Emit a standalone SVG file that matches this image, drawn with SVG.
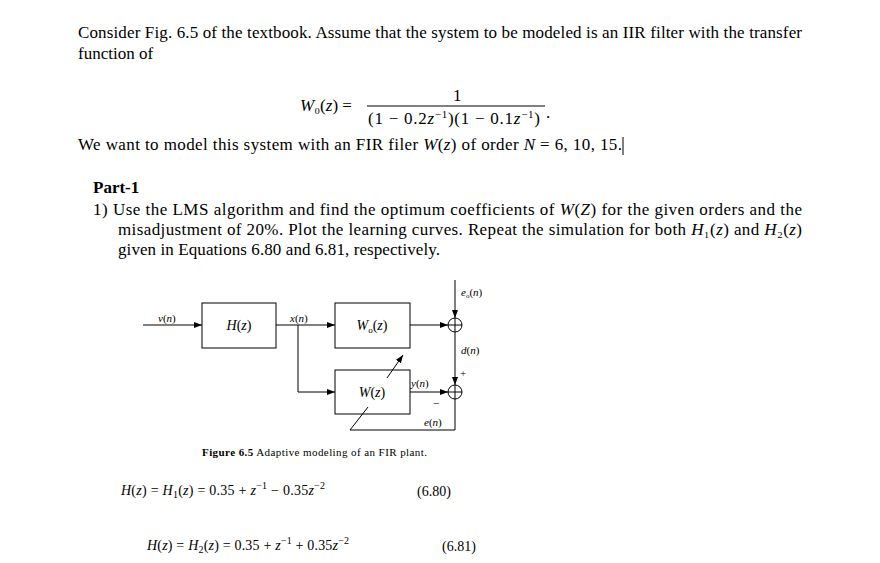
<svg xmlns="http://www.w3.org/2000/svg" width="880" height="563" viewBox="0 0 880 563">
<defs>
<marker id="ah" markerWidth="8" markerHeight="6" refX="8" refY="3" orient="auto" markerUnits="userSpaceOnUse"><path d="M0,0 L8,3 L0,6 z" fill="#000"/></marker>
</defs>
<style>
text{font-family:"Liberation Serif","DejaVu Serif",serif;fill:#000}
.t{font-size:17px}
.m{font-style:italic}
.s{font-size:11px}
.b{font-size:14px}
.box{fill:none;stroke:#000;stroke-width:1}
.ln{fill:none;stroke:#000;stroke-width:1}
</style>
<rect width="880" height="563" fill="#fff"/>
<text class="t" x="78" y="38" textLength="724" lengthAdjust="spacing">Consider Fig. 6.5 of the textbook. Assume that the system to be modeled is an IIR filter with the transfer</text>
<text class="t" x="78" y="59">function of</text>
<text class="t" x="300" y="111"><tspan class="m">W</tspan>₀(<tspan class="m">z</tspan>) =</text>
<text class="t" x="453" y="101">1</text>
<line x1="367" y1="106" x2="545" y2="106" stroke="#000"/>
<text class="t" x="368" y="124" textLength="172" lengthAdjust="spacing">(1 − 0.2<tspan class="m">z</tspan><tspan font-size="11" dy="-6">−1</tspan><tspan dy="6">)(1 − 0.1</tspan><tspan class="m">z</tspan><tspan font-size="11" dy="-6">−1</tspan><tspan dy="6">)</tspan></text>
<text class="t" x="546" y="118">.</text>
<text class="t" x="78" y="150" textLength="544" lengthAdjust="spacing">We want to model this system with an FIR filer <tspan class="m">W</tspan>(<tspan class="m">z</tspan>) of order <tspan class="m">N</tspan> = 6, 10, 15.</text>
<line x1="623" y1="137" x2="623" y2="155" stroke="#000"/>
<text class="t" x="93" y="193" font-weight="bold">Part-1</text>
<text class="t" x="93" y="215" textLength="709" lengthAdjust="spacing">1)  Use the LMS algorithm and find the optimum coefficients of <tspan class="m">W</tspan>(<tspan class="m">Z</tspan>) for the given orders and the</text>
<text class="t" x="118" y="235" textLength="684" lengthAdjust="spacing">misadjustment of 20%. Plot the learning curves. Repeat the simulation for both <tspan class="m">H</tspan>₁(<tspan class="m">z</tspan>) and <tspan class="m">H</tspan>₂(<tspan class="m">z</tspan>)</text>
<text class="t" x="118" y="255" textLength="322" lengthAdjust="spacing">given in Equations 6.80 and 6.81, respectively.</text>
<g id="connectors">
<line class="ln" x1="143" y1="325" x2="202" y2="325" marker-end="url(#ah)"/>
<line class="ln" x1="276" y1="325" x2="335" y2="325" marker-end="url(#ah)"/>
<polyline class="ln" points="298,325 298,392 335,392" marker-end="url(#ah)"/>
<line class="ln" x1="410" y1="325" x2="448" y2="325" marker-end="url(#ah)"/>
<line class="ln" x1="410" y1="392" x2="448" y2="392" marker-end="url(#ah)"/>
<line class="ln" x1="455" y1="280" x2="455" y2="318" marker-end="url(#ah)"/>
<line class="ln" x1="455" y1="332" x2="455" y2="385" marker-end="url(#ah)"/>
<polyline class="ln" points="455,399 455,430 350,430 368,407"/>
<line class="ln" x1="387" y1="378" x2="403" y2="355" marker-end="url(#ah)"/>
</g>
<g id="H"><rect class="box" x="202" y="303" width="74" height="45"/><text class="b" x="239" y="330" text-anchor="middle"><tspan class="m">H</tspan>(<tspan class="m">z</tspan>)</text></g>
<g id="Wo"><rect class="box" x="335" y="303" width="75" height="45"/><text class="b" x="372" y="330" text-anchor="middle"><tspan class="m">W</tspan><tspan font-size="9" dy="3">o</tspan><tspan dy="-3">(</tspan><tspan class="m">z</tspan>)</text></g>
<g id="W"><rect class="box" x="335" y="370" width="75" height="44"/><text class="b" x="372" y="397" text-anchor="middle"><tspan class="m">W</tspan>(<tspan class="m">z</tspan>)</text></g>
<g id="sum1"><circle class="box" cx="455" cy="325" r="7"/><line class="ln" x1="448" y1="325" x2="462" y2="325"/><line class="ln" x1="455" y1="318" x2="455" y2="332"/></g>
<g id="sum2"><circle class="box" cx="455" cy="392" r="7"/><line class="ln" x1="448" y1="392" x2="462" y2="392"/><line class="ln" x1="455" y1="385" x2="455" y2="399"/></g>
<g id="labels">
<text class="s" x="158" y="322"><tspan class="m">ν</tspan>(<tspan class="m">n</tspan>)</text>
<text class="s" x="290" y="322"><tspan class="m">x</tspan>(<tspan class="m">n</tspan>)</text>
<text class="s" x="461" y="296"><tspan class="m">e</tspan><tspan font-size="7" dy="2">o</tspan><tspan dy="-2">(</tspan><tspan class="m">n</tspan>)</text>
<text class="s" x="461" y="354"><tspan class="m">d</tspan>(<tspan class="m">n</tspan>)</text>
<text class="s" x="460" y="377">+</text>
<text class="s" x="411" y="387"><tspan class="m">y</tspan>(<tspan class="m">n</tspan>)</text>
<text class="s" x="433" y="407">−</text>
<text class="s" x="424" y="426"><tspan class="m">e</tspan>(<tspan class="m">n</tspan>)</text>
</g>
<text x="202" y="456" font-size="11" textLength="225" lengthAdjust="spacing"><tspan font-weight="bold">Figure 6.5</tspan>    Adaptive modeling of an FIR plant.</text>
<text x="121" y="495" font-size="14" textLength="204" lengthAdjust="spacing"><tspan class="m">H</tspan>(<tspan class="m">z</tspan>) = <tspan class="m">H</tspan><tspan font-size="10" dy="3">1</tspan><tspan dy="-3">(</tspan><tspan class="m">z</tspan>) = 0.35 + <tspan class="m">z</tspan><tspan font-size="10" dy="-6">−1</tspan><tspan dy="6"> − 0.35</tspan><tspan class="m">z</tspan><tspan font-size="10" dy="-6">−2</tspan></text>
<text x="417" y="496" font-size="14">(6.80)</text>
<text x="147" y="550" font-size="14" textLength="202" lengthAdjust="spacing"><tspan class="m">H</tspan>(<tspan class="m">z</tspan>) = <tspan class="m">H</tspan><tspan font-size="10" dy="3">2</tspan><tspan dy="-3">(</tspan><tspan class="m">z</tspan>) = 0.35 + <tspan class="m">z</tspan><tspan font-size="10" dy="-6">−1</tspan><tspan dy="6"> + 0.35</tspan><tspan class="m">z</tspan><tspan font-size="10" dy="-6">−2</tspan></text>
<text x="442" y="551" font-size="14">(6.81)</text>
</svg>
